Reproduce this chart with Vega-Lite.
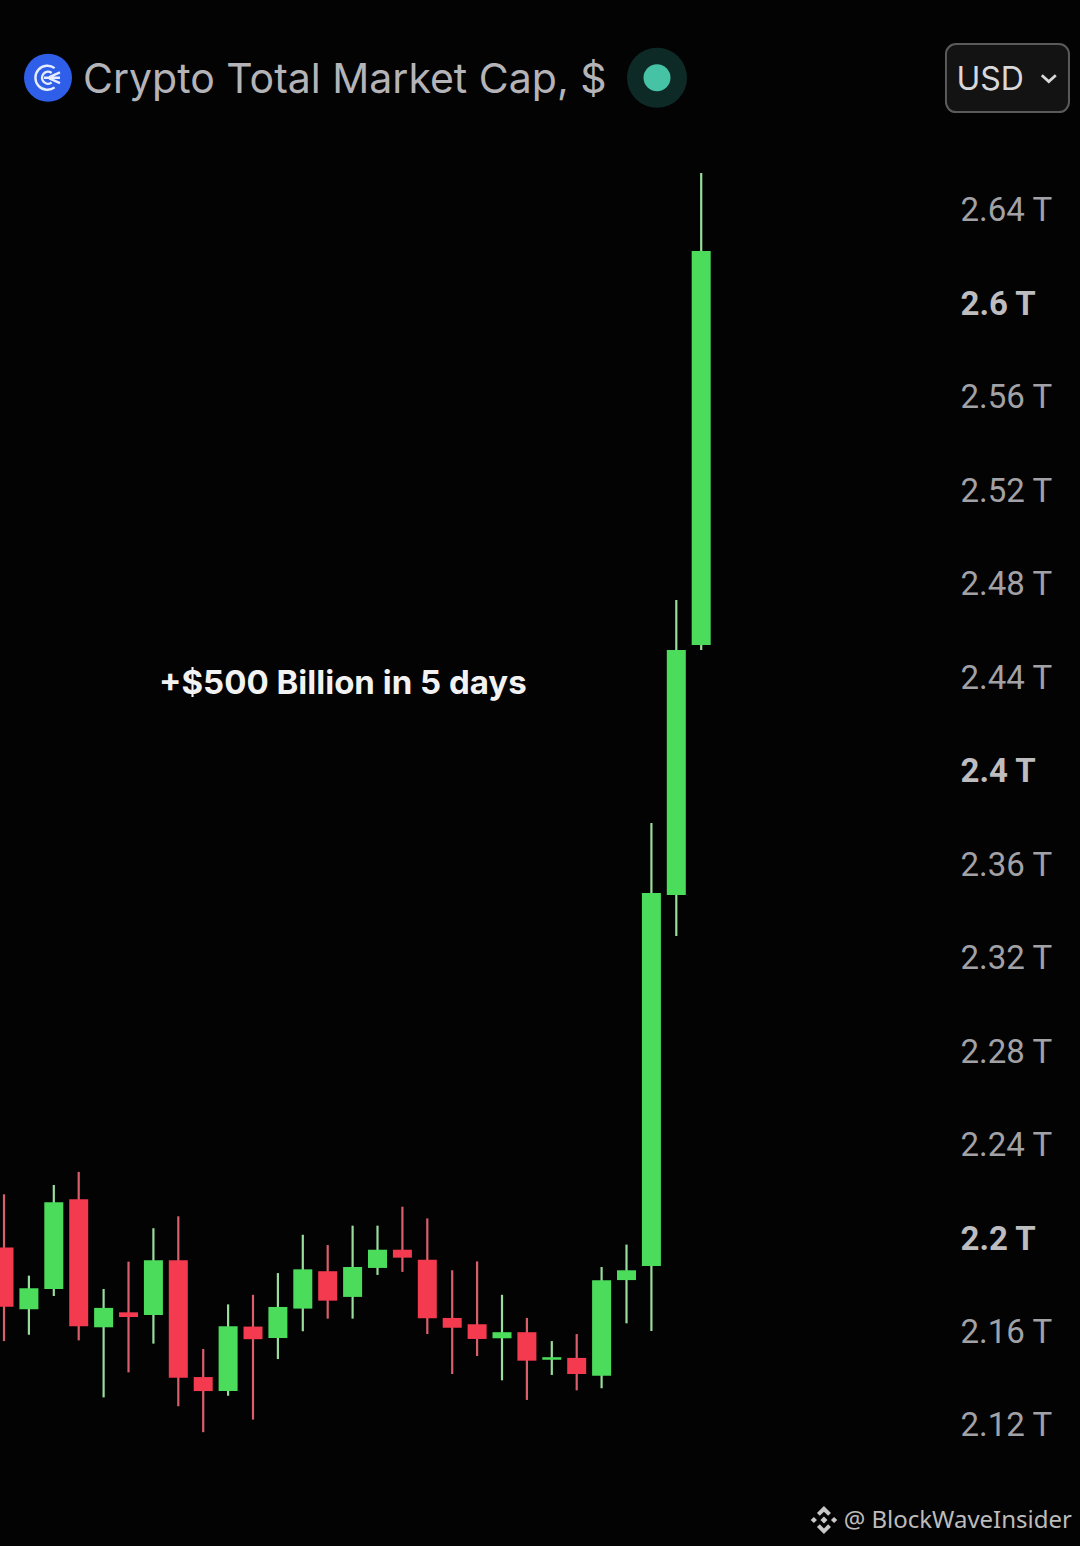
{
  "$schema": "https://vega.github.io/schema/vega-lite/v6.json",
  "width": 1080,
  "height": 1546,
  "padding": 0,
  "autosize": "none",
  "background": "#030303",
  "title": {
    "text": "Crypto Total Market Cap, $",
    "anchor": "start",
    "frame": "group",
    "offset": 0,
    "dx": 83,
    "dy": 122,
    "baseline": "middle",
    "font": "Inter",
    "fontSize": 41,
    "fontWeight": "normal",
    "color": "#b4b4b8"
  },
  "config": {"view": {"stroke": null}},
  "datasets": {
    "candles": [
      {"day": 0, "dir": "down", "open": 2.1960, "close": 2.1706, "high": 2.2187, "low": 2.1559},
      {"day": 1, "dir": "up", "open": 2.1695, "close": 2.1785, "high": 2.1839, "low": 2.1586},
      {"day": 2, "dir": "up", "open": 2.1782, "close": 2.2153, "high": 2.2227, "low": 2.1752},
      {"day": 3, "dir": "down", "open": 2.2166, "close": 2.1622, "high": 2.2283, "low": 2.1562},
      {"day": 4, "dir": "up", "open": 2.1618, "close": 2.1701, "high": 2.1782, "low": 2.1318},
      {"day": 5, "dir": "down", "open": 2.1682, "close": 2.1662, "high": 2.1899, "low": 2.1425},
      {"day": 6, "dir": "up", "open": 2.1671, "close": 2.1905, "high": 2.2042, "low": 2.1548},
      {"day": 7, "dir": "down", "open": 2.1905, "close": 2.1402, "high": 2.2093, "low": 2.1280},
      {"day": 8, "dir": "down", "open": 2.1405, "close": 2.1345, "high": 2.1525, "low": 2.1169},
      {"day": 9, "dir": "up", "open": 2.1345, "close": 2.1622, "high": 2.1716, "low": 2.1325},
      {"day": 10, "dir": "down", "open": 2.1621, "close": 2.1567, "high": 2.1757, "low": 2.1223},
      {"day": 11, "dir": "up", "open": 2.1572, "close": 2.1705, "high": 2.1850, "low": 2.1482},
      {"day": 12, "dir": "up", "open": 2.1698, "close": 2.1866, "high": 2.2014, "low": 2.1601},
      {"day": 13, "dir": "down", "open": 2.1858, "close": 2.1732, "high": 2.1970, "low": 2.1655},
      {"day": 14, "dir": "up", "open": 2.1748, "close": 2.1876, "high": 2.2053, "low": 2.1655},
      {"day": 15, "dir": "up", "open": 2.1872, "close": 2.1950, "high": 2.2053, "low": 2.1842},
      {"day": 16, "dir": "down", "open": 2.1950, "close": 2.1916, "high": 2.2134, "low": 2.1855},
      {"day": 17, "dir": "down", "open": 2.1907, "close": 2.1657, "high": 2.2084, "low": 2.1589},
      {"day": 18, "dir": "down", "open": 2.1658, "close": 2.1616, "high": 2.1862, "low": 2.1418},
      {"day": 19, "dir": "down", "open": 2.1631, "close": 2.1568, "high": 2.1900, "low": 2.1495},
      {"day": 20, "dir": "up", "open": 2.1571, "close": 2.1597, "high": 2.1757, "low": 2.1391},
      {"day": 21, "dir": "down", "open": 2.1597, "close": 2.1475, "high": 2.1658, "low": 2.1307},
      {"day": 22, "dir": "up", "open": 2.1479, "close": 2.1490, "high": 2.1559, "low": 2.1414},
      {"day": 23, "dir": "down", "open": 2.1487, "close": 2.1418, "high": 2.1589, "low": 2.1348},
      {"day": 24, "dir": "up", "open": 2.1411, "close": 2.1819, "high": 2.1876, "low": 2.1357},
      {"day": 25, "dir": "up", "open": 2.1820, "close": 2.1862, "high": 2.1972, "low": 2.1635},
      {"day": 26, "dir": "up", "open": 2.1880, "close": 2.3477, "high": 2.3776, "low": 2.1602},
      {"day": 27, "dir": "up", "open": 2.3468, "close": 2.4517, "high": 2.4731, "low": 2.3293},
      {"day": 28, "dir": "up", "open": 2.4538, "close": 2.6225, "high": 2.6558, "low": 2.4517}
    ]
  },
  "encoding": {
    "x": {"field": "day", "type": "quantitative", "scale": {"domain": [-0.161, 43.213], "padding": 0, "nice": false, "zero": false}, "axis": null},
    "y": {
      "field": "value",
      "type": "quantitative",
      "scale": {"domain": [2.06819, 2.72988], "nice": false, "zero": false},
      "axis": {
        "orient": "right",
        "offset": -120,
        "title": null,
        "domain": false,
        "ticks": false,
        "grid": false,
        "labelPadding": 0,
        "labelOffset": 1,
        "labelAlign": "left",
        "labelBaseline": "middle",
        "labelFont": "Roboto",
        "labelFontSize": 33,
        "labelColor": {"condition": {"test": "datum.value == 2.2 || datum.value == 2.4 || datum.value == 2.6", "value": "#bdbdc0"}, "value": "#a2a2a6"},
        "labelFontWeight": {"condition": {"test": "datum.value == 2.2 || datum.value == 2.4 || datum.value == 2.6", "value": "bold"}, "value": "normal"},
        "values": [2.12, 2.16, 2.2, 2.24, 2.28, 2.32, 2.36, 2.4, 2.44, 2.48, 2.52, 2.56, 2.6, 2.64],
        "labelExpr": "format(datum.value, '.3~f') + ' T'",
        "labelOverlap": false
      }
    }
  },
  "layer": [
    {
      "data": {"name": "candles"},
      "mark": {"type": "rule", "strokeWidth": 2.2},
      "encoding": {
        "y": {"field": "low", "type": "quantitative"},
        "y2": {"field": "high"},
        "color": {"condition": {"test": "datum.dir == 'up'", "value": "#98dc9e"}, "value": "#da5f6c"}
      }
    },
    {
      "data": {"name": "candles"},
      "mark": {"type": "bar", "size": 19},
      "encoding": {
        "y": {"field": "open", "type": "quantitative"},
        "y2": {"field": "close"},
        "color": {"condition": {"test": "datum.dir == 'up'", "value": "#4bdc5c"}, "value": "#f43a4e"}
      }
    },
    {
      "data": {"values": [{"day": 13.61, "value": 2.4372, "note": "+$500 Billion in 5 days"}]},
      "mark": {"type": "text", "font": "Inter", "fontSize": 33, "fontWeight": 700, "color": "#f2f2f2", "align": "center", "baseline": "middle"},
      "encoding": {"text": {"field": "note"}}
    },
    {
      "data": {"values": [{"day": 1.767, "value": 2.6966}]},
      "mark": {"type": "point", "shape": "circle", "filled": true, "size": 2304, "color": "#2f5fe8", "opacity": 1},
      "encoding": {}
    },
    {
      "data": {"values": [{"day": 1.767, "value": 2.6966}]},
      "mark": {
        "type": "point",
        "shape": "M0.55 -0.8A1 1 0 1 0 0.55 0.8M0.3 -0.4A0.5 0.5 0 1 0 0.3 0.4M-0.35 0L1 0M0.1 -0.05L1 -0.45M0.1 0.05L1 0.45",
        "filled": false,
        "size": 576,
        "stroke": "#e6ecff",
        "strokeWidth": 2.4,
        "opacity": 1
      },
      "encoding": {}
    },
    {
      "data": {"values": [{"day": 26.225, "value": 2.6966}]},
      "mark": {"type": "point", "shape": "circle", "filled": true, "size": 3600, "color": "#0e2a27", "opacity": 1},
      "encoding": {}
    },
    {
      "data": {"values": [{"day": 26.225, "value": 2.6966}]},
      "mark": {"type": "point", "shape": "circle", "filled": true, "size": 729, "color": "#46c2a4", "opacity": 1},
      "encoding": {}
    },
    {
      "data": {"values": [{"left": 37.83, "right": 42.77, "top": 2.7110, "bottom": 2.6819}]},
      "mark": {"type": "rect", "fill": "#131313", "stroke": "#5a5a5c", "strokeWidth": 2, "cornerRadius": 10},
      "encoding": {
        "x": {"field": "left", "type": "quantitative", "axis": null},
        "x2": {"field": "right"},
        "y": {"field": "top", "type": "quantitative"},
        "y2": {"field": "bottom"}
      }
    },
    {
      "data": {"values": [{"day": 38.25, "value": 2.6958, "note": "USD"}]},
      "mark": {"type": "text", "font": "Inter", "fontSize": 32, "color": "#d8d8da", "align": "left", "baseline": "middle"},
      "encoding": {"text": {"field": "note"}}
    },
    {
      "data": {"values": [{"day": 41.96, "value": 2.6963}]},
      "mark": {"type": "point", "shape": "M-1 -0.45L0 0.45L1 -0.45", "filled": false, "size": 196, "stroke": "#d8d8da", "strokeWidth": 2.8, "opacity": 1},
      "encoding": {}
    },
    {
      "data": {"values": [{"day": 32.93, "value": 2.0793}]},
      "mark": {
        "type": "point",
        "shape": "M0 -1L0.5 -0.5L0.3 -0.3L0 -0.6L-0.3 -0.3L-0.5 -0.5ZM0 1L0.5 0.5L0.3 0.3L0 0.6L-0.3 0.3L-0.5 0.5ZM0 -0.25L0.25 0L0 0.25L-0.25 0ZM-0.72 -0.22L-0.5 0L-0.72 0.22L-0.95 0ZM0.72 -0.22L0.95 0L0.72 0.22L0.5 0Z",
        "filled": true,
        "size": 784,
        "color": "#c8c8c8",
        "opacity": 1
      },
      "encoding": {}
    },
    {
      "data": {"values": [{"day": 33.72, "value": 2.0791, "note": "@ BlockWaveInsider"}]},
      "mark": {"type": "text", "font": "Noto Sans", "fontSize": 24, "color": "#bcbcbc", "align": "left", "baseline": "middle"},
      "encoding": {"text": {"field": "note"}}
    }
  ]
}
